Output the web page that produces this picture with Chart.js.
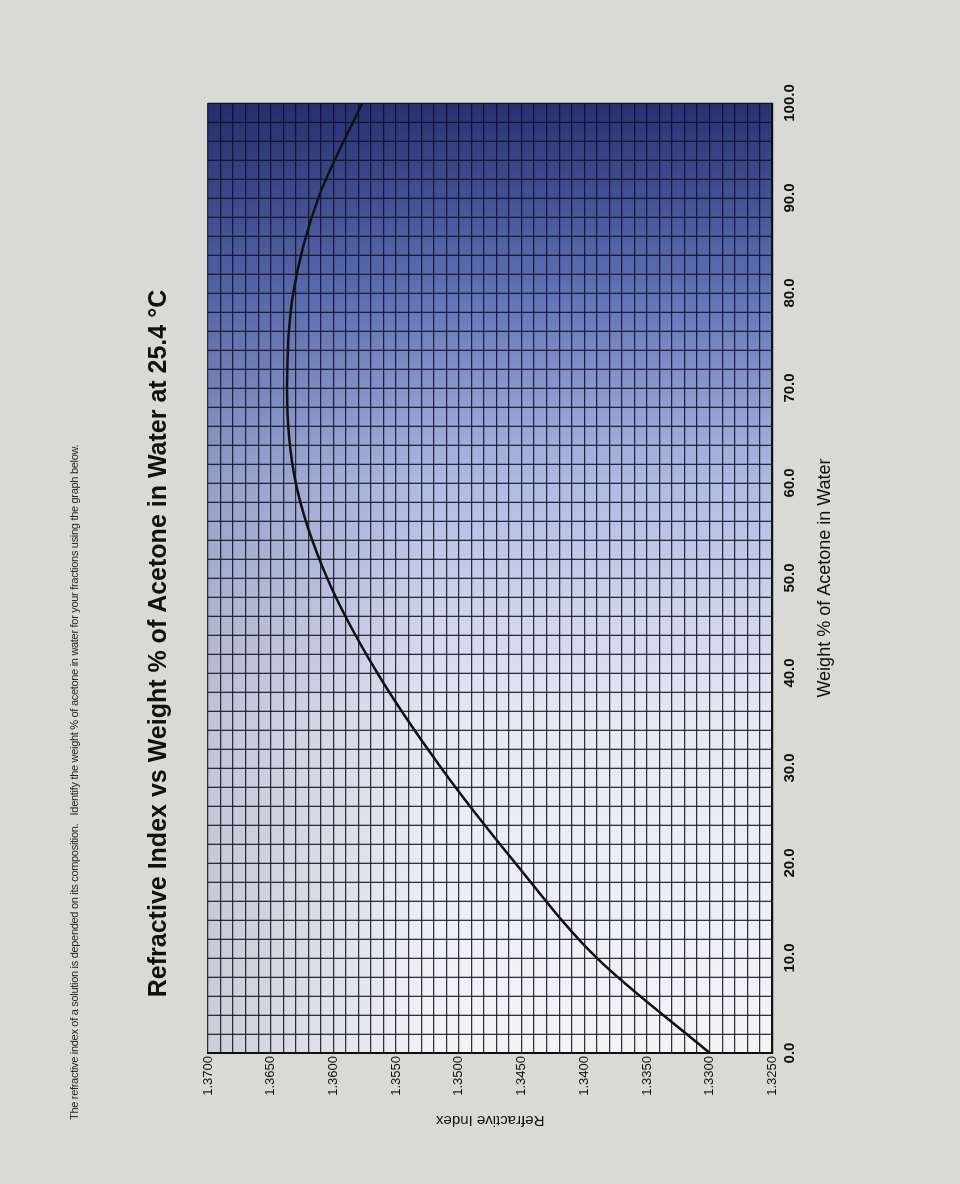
<!DOCTYPE html>
<html><head><meta charset="utf-8">
<script src="https://cdn.jsdelivr.net/npm/chart.js@4"></script>
<style>
html,body{margin:0;padding:0;background:#d9d9d6;overflow:hidden;width:960px;height:1184px}
#wrap{position:absolute;left:0;top:0;width:1184px;height:960px;transform-origin:0 0;transform:translate(0,1184px) rotate(-90deg);}
#note{position:absolute;left:64px;top:68px;font:11px "Liberation Sans",Arial,sans-serif;color:#222;letter-spacing:-0.3px}
</style></head><body>
<div id="wrap">
<div id="note">The refractive index of a solution is depended on its composition.&nbsp;&nbsp; Identify the weight % of acetone in water for your fractions using the graph below.</div>
<canvas id="c" width="1184" height="960"></canvas>
</div>
<script>
const weightPct = [0, 10, 20, 30, 40, 50, 60, 70, 80, 90, 100];
const refractiveIndex = [1.3300, 1.3390, 1.3455, 1.3514, 1.3565, 1.3605, 1.3630, 1.3637, 1.3632, 1.3612, 1.3577];
const titleText = 'Refractive Index vs Weight % of Acetone in Water at 25.4 \u00B0C';
const xTitle = 'Weight % of Acetone in Water';
const yTitle = 'Refractive Index';

const bgPlugin = {
  id:'bg',
  beforeDraw(chart){
    const {ctx, chartArea:a} = chart;
    const g = ctx.createLinearGradient(a.left,0,a.right,0);
    g.addColorStop(0,'#f4f4f6');
    g.addColorStop(0.35,'#e6e8f2');
    g.addColorStop(0.6,'#b0bbe2');
    g.addColorStop(0.8,'#6072b8');
    g.addColorStop(1,'#263272');
    ctx.save();
    ctx.fillStyle=g;
    ctx.fillRect(a.left,a.top,a.right-a.left,a.bottom-a.top);
    const g2 = ctx.createLinearGradient(0,a.top,0,a.bottom);
    g2.addColorStop(0,'rgba(20,30,80,0.18)');
    g2.addColorStop(0.4,'rgba(20,30,80,0)');
    g2.addColorStop(1,'rgba(20,30,80,0)');
    ctx.fillStyle=g2;
    ctx.fillRect(a.left,a.top,a.right-a.left,a.bottom-a.top);
    ctx.restore();
  }
};

new Chart(document.getElementById('c'),{
  type:'line',
  data:{datasets:[{
    data: weightPct.map((w,i)=>({x:w,y:refractiveIndex[i]})),
    borderColor:'#111', borderWidth:2.5, pointRadius:0, cubicInterpolationMode:'monotone', fill:false
  }]},
  options:{
    responsive:false, animation:false,
    layout:{padding:{left:0,right:103,top:0,bottom:120}},
    plugins:{legend:{display:false},tooltip:{enabled:false},
      title:{display:true,text:titleText,color:'#111',font:{family:'Liberation Sans',size:25,weight:'bold'},padding:{top:144,bottom:34}}},
    scales:{
      x:{type:'linear',min:0,max:100,
        ticks:{stepSize:2,autoSkip:false,maxRotation:0,padding:8,color:'#111',font:{family:'Liberation Sans',size:15,weight:'bold'},
          callback:v=>v%10===0?v.toFixed(1):''},
        grid:{color:'rgba(15,15,30,0.85)',lineWidth:1.3,drawTicks:false},
        border:{color:'#111',width:2},
        title:{display:true,text:xTitle,color:'#111',font:{family:'Liberation Sans',size:18},padding:{top:8}}},
      y:{type:'linear',min:1.325,max:1.37,
        afterFit(s){s.width=131;},
        ticks:{stepSize:0.001,autoSkip:false,color:'#111',font:{family:'Liberation Sans',size:13},
          callback:v=>Math.abs(Math.round(v*1000)%5)===0?v.toFixed(4):''},
        grid:{color:'rgba(15,15,30,0.85)',lineWidth:1.3,drawTicks:false},
        border:{color:'#111',width:2},
        title:{display:true,text:yTitle,color:'#111',font:{family:'Liberation Sans',size:15},padding:{top:55,bottom:0}}}
    }
  },
  plugins:[bgPlugin]
});
</script>
</body></html>
